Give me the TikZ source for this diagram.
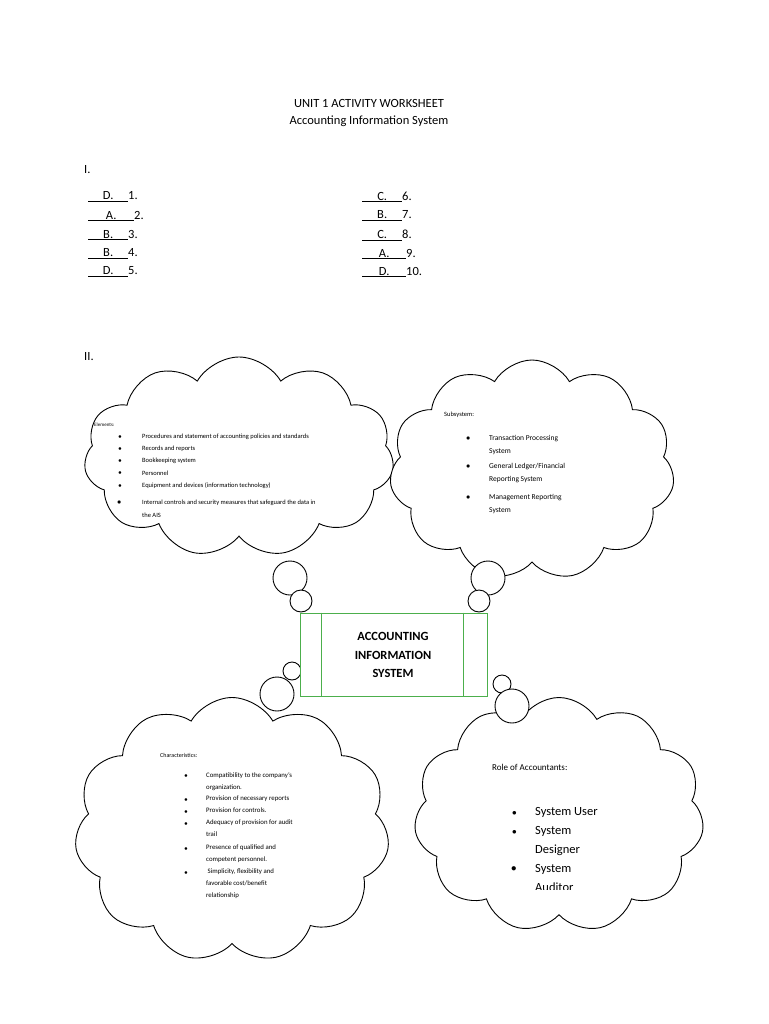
\documentclass[tikz,border=0pt]{standalone}
\usepackage{fontspec}
\setmainfont{Carlito}
\usetikzlibrary{shapes.symbols}
\begin{document}
\begin{tikzpicture}[x=1pt,y=-1pt,
  cl/.style={cloud,draw,fill=white,line width=0.9pt,cloud puffs=11,cloud puff arc=120,inner sep=0pt},
  bub/.style={circle,draw,fill=white,line width=0.9pt,inner sep=0pt},
  tt/.style={anchor=west,inner sep=0pt,font=\fontsize{#1}{#1}\selectfont},
  tt/.default=7]
\useasboundingbox (0,0) rectangle (768,1024);
\node[font=\fontsize{12.5}{14}\selectfont] (t1) at (369,103) {UNIT 1 ACTIVITY WORKSHEET};
\node[font=\fontsize{12.5}{14}\selectfont] (t2) at (369,121) {Accounting Information System};
\node[tt=12.5] (r1) at (84,170) {I.};
\newcommand{\ans}[3]{\underline{\makebox[#1pt][c]{#2}}#3}
\node[tt=12.5] (a1) at (88,197) {\ans{40}{D.}{1.}};
\node[tt=12.5] (a2) at (88,216) {\ans{46}{A.}{2.}};
\node[tt=12.5] (a3) at (88,235) {\ans{40}{B.}{3.}};
\node[tt=12.5] (a4) at (88,254) {\ans{40}{B.}{4.}};
\node[tt=12.5] (a5) at (88,272) {\ans{40}{D.}{5.}};
\node[tt=12.5] (a6) at (362,197) {\ans{40}{C.}{6.}};
\node[tt=12.5] (a7) at (362,216) {\ans{40}{B.}{7.}};
\node[tt=12.5] (a8) at (362,235) {\ans{40}{C.}{8.}};
\node[tt=12.5] (a9) at (362,254) {\ans{44}{A.}{9.}};
\node[tt=12.5] (a10) at (362,272) {\ans{44}{D.}{10.}};
\node[tt=12.5] (r2) at (84,357) {II.};
% clouds
\node[cl,minimum width=310pt,minimum height=200pt] (c1) at (239,457) {};
\node[cl,minimum width=285pt,minimum height=220pt] (c2) at (532,470) {};
\node[cl,minimum width=315pt,minimum height=265pt] (c3) at (232,830) {};
\node[cl,minimum width=290pt,minimum height=235pt] (c4) at (559,815) {};
% bubbles
\node[bub,minimum size=34pt] (b1) at (290,578) {};
\node[bub,minimum size=22pt] (b2) at (301,601) {};
\node[bub,minimum size=34pt] (b3) at (488,578) {};
\node[bub,minimum size=22pt] (b4) at (479,601) {};
\node[bub,minimum size=18pt] (b5) at (292,671) {};
\node[bub,minimum size=34pt] (b6) at (277,694) {};
\node[bub,minimum size=18pt] (b7) at (502,684) {};
\node[bub,minimum size=34pt] (b8) at (512,706) {};
% center box
\node[draw=green!55!black!70,line width=0.9pt,fill=white,minimum width=187pt,minimum height=83pt,inner sep=0pt] (ais) at (393.5,654.5) {};
\draw[green!55!black!70,line width=0.9pt] (ais.north west)++(22,0) coordinate (l1) -- ++(0,83) coordinate (l2);
\draw[green!55!black!70,line width=0.9pt] (ais.north east)++(-24,0) coordinate (l3) -- ++(0,83) coordinate (l4);
\node[align=center,font=\fontsize{12.5}{18.5}\selectfont\bfseries] (aist) at (393,655) {ACCOUNTING\\INFORMATION\\SYSTEM};
% elements
\node[tt=5] (e0) at (94,425) {Elements:};
\foreach \y/\t [count=\i] in {437/Procedures and statement of accounting policies and standards,449/Records and reports,461/Bookkeeping system,473/Personnel,486/Equipment and devices (information technology)}{
  \node[tt=6.5] (eb\i) at (118,\y) {$\bullet$};
  \node[tt=6.5] (et\i) at (142,\y) {\t};}
\node[tt=8] (eb6) at (117,503) {$\bullet$};
\node[tt=6.5] (et6) at (142,503) {Internal controls and security measures that safeguard the data in};
\node[tt=6.5] (et7) at (142,515) {the AIS};
% subsystem
\node[tt=6.5] (s0) at (444,415) {Subsystem:};
\foreach \y/\a/\b [count=\i] in {439/{Transaction Processing}/{System},467/{General Ledger/Financial}/{Reporting System},498/{Management Reporting}/{System}}{
  \node[tt=8] (sb\i) at (466,\y) {$\bullet$};
  \node[align=left,anchor=north west,inner sep=0pt,font=\fontsize{7.5}{13}\selectfont] (st\i) at (489,\y-4) {\a\\\b};}
% characteristics
\node[tt=6] (h0) at (160,755) {Characteristics:};
\foreach \y/\t [count=\i] in {776/{Compatibility to the company's\\organization.},800/{Provision of necessary reports},812/{Provision for controls.},824/{Adequacy of provision for audit\\trail},849/{Presence of qualified and\\competent personnel.},873/{\ Simplicity, flexibility and\\favorable cost/benefit\\relationship}}{
  \node[tt=6.5] (hb\i) at (184,\y) {$\bullet$};
  \node[align=left,anchor=north west,inner sep=0pt,font=\fontsize{6.8}{12}\selectfont] (ht\i) at (206,\y-4) {\t};}
% role
\node[tt=9] (o0) at (492,767) {Role of Accountants:};
\node[tt=9] (ob1) at (512,813) {$\bullet$};
\node[tt=12.5] (ot1) at (535,812) {System User};
\node[tt=9] (ob2) at (512,832) {$\bullet$};
\node[tt=12.5] (ot2) at (535,831) {System};
\node[tt=12.5] (ot3) at (535,850) {Designer};
\node[tt=11] (ob3) at (511,869) {$\bullet$};
\node[tt=12.5] (ot4) at (535,869) {System};
\begin{scope}
\clip (500,875) rectangle (620,889);
\node[tt=12.5] (ot5) at (535,887) {Auditor};
\end{scope}
\end{tikzpicture}
\end{document}
